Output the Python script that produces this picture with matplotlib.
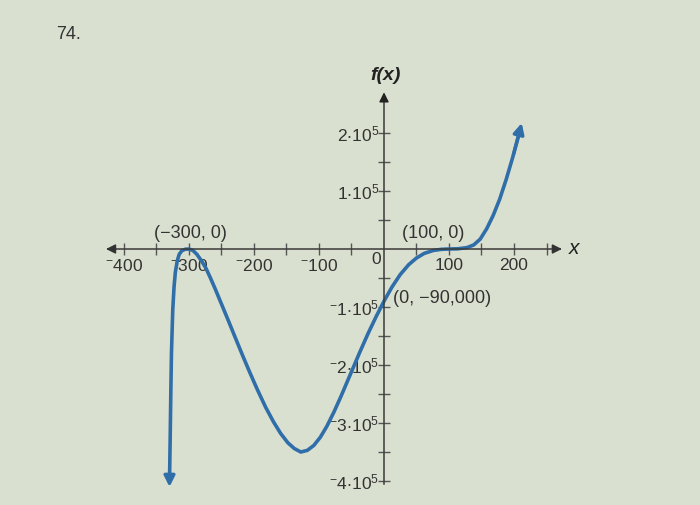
import numpy as np
import matplotlib.pyplot as plt
from matplotlib.ticker import FixedLocator, FixedFormatter

plt.rcParams['font.family'] = ['Liberation Sans', 'DejaVu Sans']
plt.rcParams['mathtext.fontset'] = 'custom'
plt.rcParams['mathtext.rm'] = 'Liberation Sans'
plt.rcParams['mathtext.it'] = 'Liberation Sans:italic'

# points
curve_x = [-330, -329, -328, -327, -325, -323, -321, -318, -315, -311, -306, -300,
           -294, -288, -281, -274, -267, -260, -250, -240, -228, -217, -206, -195,
           -182, -170, -159, -148, -138, -128, -118, -108, -98, -88, -77, -66,
           -51, -38, -25, -12, 0, 12, 25, 38, 50, 62, 76, 88, 100, 114, 128,
           138, 148, 158, 168, 178, 188, 198, 208]
curve_y = [-400000, -330000, -250000, -180000, -105000, -65000, -40000, -20000, -9000, -3000, -500, 0,
           -2500, -9000, -20000, -33000, -50000, -68000, -95000, -122000, -155000, -185000, -214000, -242000,
           -273000, -298000, -318000, -334000, -344000, -350000, -347200, -338700, -324600, -305800, -281000, -253600,
           -214100, -179900, -146900, -116300, -90000, -66000, -44000, -27000, -15500, -7500, -2500, -600, 0, 400, 2500,
           7000, 17000, 35000, 58000, 86000, 120000, 158000, 199000]

x_ticks = [-400, -300, -200, -100, 100, 200]
x_labels = [r'$\mathregular{^{-}400}$', r'$\mathregular{^{-}300}$', r'$\mathregular{^{-}200}$',
            r'$\mathregular{^{-}100}$', '100', '200']
y_ticks = [200000, 100000, -100000, -200000, -300000, -400000]
y_labels = [r'$\mathregular{2{\cdot}10^5}$', r'$\mathregular{1{\cdot}10^5}$', r'$\mathregular{^{-}1{\cdot}10^5}$',
            r'$\mathregular{^{-}2{\cdot}10^5}$', r'$\mathregular{^{-}3{\cdot}10^5}$', r'$\mathregular{^{-}4{\cdot}10^5}$']

fig = plt.figure(figsize=(7, 5.05), dpi=100)
fig.patch.set_facecolor('#dae0cf')
ax = fig.add_axes([0, 0, 1, 1])
ax.set_facecolor('#dae0cf')

# pixel mapping: x px = 384 + 0.65*x, y px = 249 - 58e-5*y
ax.set_xlim(-384 / 0.65, (700 - 384) / 0.65)
ax.set_ylim(-(505 - 249) / 58e-5, 249 / 58e-5)

for s in ['top', 'right']:
    ax.spines[s].set_visible(False)
ax.spines['left'].set_position(('data', 0))
ax.spines['bottom'].set_position(('data', 0))
ax.spines['left'].set_bounds(-405000, 265000)
ax.spines['bottom'].set_bounds(-425, 270)
for s in ['left', 'bottom']:
    ax.spines[s].set_color('#3a3a3a')
    ax.spines[s].set_linewidth(1.1)

ax.xaxis.set_major_locator(FixedLocator(x_ticks))
ax.xaxis.set_major_formatter(FixedFormatter(x_labels))
ax.xaxis.set_minor_locator(FixedLocator([-350, -250, -150, -50, 50, 150, 250]))
ax.yaxis.set_major_locator(FixedLocator(y_ticks))
ax.yaxis.set_major_formatter(FixedFormatter(y_labels))
ax.yaxis.set_minor_locator(FixedLocator([150000, 50000, -50000, -150000, -250000, -350000]))
ax.tick_params(which='both', direction='inout', length=9, width=1, color='#555555',
               labelsize=12.5, labelcolor='#333333')
ax.tick_params(axis='x', pad=2)
ax.tick_params(axis='y', pad=-1)

# axis arrows
ax.annotate('', xy=(278, 0), xytext=(262, 0),
            arrowprops=dict(arrowstyle='-|>', color='#333333', lw=1.1, mutation_scale=14))
ax.annotate('', xy=(-432, 0), xytext=(-416, 0),
            arrowprops=dict(arrowstyle='-|>', color='#333333', lw=1.1, mutation_scale=14))
ax.annotate('', xy=(0, 275000), xytext=(0, 250000),
            arrowprops=dict(arrowstyle='-|>', color='#222222', lw=1.1, mutation_scale=14))

ax.text(3, 300000, 'f(x)', fontsize=14, fontweight='bold', style='italic',
        ha='center', va='center', color='#222222')
ax.text(285, 0, 'x', fontsize=15, style='italic', ha='left', va='center', color='#222222')
ax.text(-4, -5000, '0', fontsize=12.5, ha='right', va='top', color='#333333')

# curve
ax.plot(curve_x, curve_y, color='#2f6ea8', lw=2.6, solid_capstyle='round', solid_joinstyle='round')
ax.annotate('', xy=(curve_x[0], curve_y[0] - 15000), xytext=(curve_x[0], curve_y[0] + 10000),
            arrowprops=dict(arrowstyle='-|>', color='#2f6ea8', lw=2.4, mutation_scale=16))
ax.annotate('', xy=(213, 222000), xytext=(curve_x[-2], curve_y[-2]),
            arrowprops=dict(arrowstyle='-|>', color='#2f6ea8', lw=2.4, mutation_scale=16))

# point labels
ax.text(-298, 26000, '(−300, 0)', fontsize=13, ha='center', va='center', color='#333333')
ax.text(75, 26000, '(100, 0)', fontsize=13, ha='center', va='center', color='#333333')
ax.text(14, -85000, '(0, −90,000)', fontsize=13, ha='left', va='center', color='#333333')

ax.text(-485, 370000, '74.', fontsize=13, ha='center', va='center', color='#333333')

fig.savefig('out.png', dpi=100, facecolor=fig.get_facecolor())
